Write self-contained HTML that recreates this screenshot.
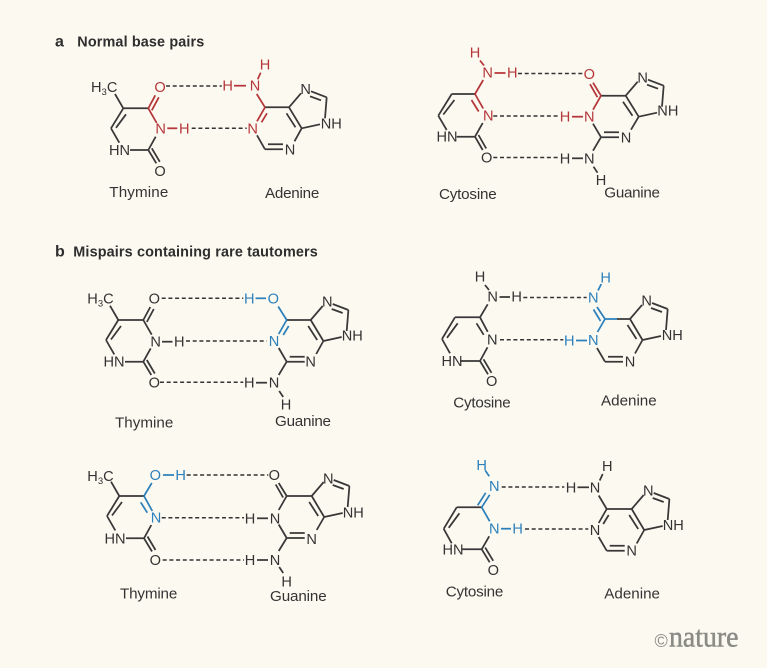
<!DOCTYPE html>
<html><head><meta charset="utf-8"><style>
html,body{margin:0;padding:0;background:#fcf9f0}
svg{display:block;filter:blur(.3px)}
text{font-family:"Liberation Sans",sans-serif;fill:#333}
.a{font-size:14.6px;text-anchor:middle}
.s{font-size:14.6px}
.l{font-size:15.2px}
.h{font-size:14.4px;font-weight:bold;fill:#2e2e2e}
.r{fill:#b5363a}.b{fill:#2c80bb}
path{fill:none;stroke:#383838;stroke-width:1.75}
.pr{stroke:#b5363a}.pb{stroke:#2c80bb}
.d{stroke:#333;stroke-width:1.5;stroke-dasharray:4 2.7}
</style></head><body>
<svg width="767" height="668" viewBox="0 0 767 668" xmlns="http://www.w3.org/2000/svg">
<rect width="767" height="668" fill="#fcf9f0"/>

<text class="h" x="55" y="46.5" style="font-size:16px">a</text>
<text class="h" x="77.3" y="46.5" textLength="127" lengthAdjust="spacing">Normal base pairs</text>
<text class="h" x="55" y="256.5" style="font-size:16px">b</text>
<text class="h" x="73.3" y="256.5" textLength="244.5" lengthAdjust="spacing">Mispairs containing rare tautomers</text>

<!-- a: Thymine -->
<g transform="translate(123.3 108.3)">
<path d="M0 0H25M0 0L-12.3 20M2.7 6L-7.3 19.5M-12.3 20L-4 34.4M6.7 41.7H25M25 41.7L32.4 28.4M25 41.7L33 55M28.5 40L36.5 53.5M0 0L-8.3 -14.3"/>
<path class="pr" d="M25 0L32 -13M28.5 2L35.5 -11M33.4 14.7L25 0"/>
</g>
<text class="s" x="91" y="92">H<tspan font-size="9.5" dy="3">3</tspan><tspan dy="-3">C</tspan></text>
<text class="a r" x="160" y="92">O</text>
<text class="a r" x="160.7" y="133.3">N</text>
<text class="a r" x="184.3" y="133.3">H</text>
<path class="pr" d="M167.3 128.3H177.3"/>
<text class="a" x="119.5" y="155">HN</text>
<text class="a" x="160" y="176">O</text>
<path class="d" d="M166 86H221.7M191.7 128.3H246.7"/>
<!-- a: Adenine -->
<g transform="translate(265 107.3)">
<path d="M0 0H24M24 0L36.7 21M21.5 6L30.5 20M36.7 21L29.5 34M18 42H0M18 37H3M0 42L-8 28M24 0L36 -14M46 -16L61.7 -10M45 -11L56 -7M61.7 -10L60 11M55 17L36.7 21"/>
<path class="pr" d="M-8 14L0 0M-3.5 15L2 6M0 0L-8.3 -13.3M-4.3 -34.6L-7.3 -28"/>
</g>
<text class="a r" x="255" y="90.7">N</text>
<text class="a r" x="265" y="69.3">H</text>
<text class="a r" x="227.7" y="90.7">H</text>
<path class="pr" d="M234 85.7H246"/>
<text class="a r" x="252.7" y="133.3">N</text>
<text class="a" x="290" y="154.3">N</text>
<text class="a" x="305.7" y="94">N</text>
<text class="s" x="320.7" y="128.3">NH</text>
<text class="l" x="109.3" y="197" textLength="59" lengthAdjust="spacing">Thymine</text>
<text class="l" x="265" y="198" textLength="54.3" lengthAdjust="spacing">Adenine</text>

<!-- a: Cytosine -->
<g transform="translate(451.7 94)">
<path d="M0 0H23.5M0 0L-13.4 21.7M2.7 6L-8.4 20.5M-13.4 21.7L-5 36M5 42.7H23.3M23.3 42.7L31 29M23.3 42.7L31 56M26.8 41L34.5 54.5"/>
<path class="pr" d="M23.3 0L31.5 14.5M19.8 6L27 17.5M23.3 0L31.5 -14"/>
</g>
<text class="a r" x="487.7" y="77.7">N</text>
<text class="a r" x="475" y="57.3">H</text>
<text class="a r" x="512.3" y="77.7">H</text>
<path class="pr" d="M494.5 73H505.5M480 60.5L484 65.5"/>
<text class="a r" x="488.3" y="120.7">N</text>
<text class="a" x="447" y="141.7">HN</text>
<text class="a" x="486.7" y="162.3">O</text>
<path class="d" d="M518 73.5H583M493.3 116H558.3M493.3 157.5H558.3"/>
<!-- a: Guanine -->
<g transform="translate(601 95.7)">
<path d="M0 0H24.7M24.7 0L37.7 21M22 6L31.5 20M37.7 21L30 34M18 41.5H0M18 36.5H3M-8 28L0 41.5M24.7 0L36.7 -14M47 -16L62.7 -10M46 -11L57 -7M62.7 -10L61 11M56 17L37.7 21M0 41.5L-8 55M-7.5 71L-3.5 77"/>
<path class="pr" d="M0 0L-8 -13M-3.6 1.5L-11 -11.5M0 0L-8 14"/>
</g>
<text class="a r" x="589.3" y="79">O</text>
<text class="a r" x="589.3" y="121.7">N</text>
<text class="a r" x="565" y="121.7">H</text>
<path class="pr" d="M572 116.7H583"/>
<text class="a" x="626" y="142.3">N</text>
<text class="a" x="642.7" y="82.3">N</text>
<text class="s" x="657.3" y="115.7">NH</text>
<text class="a" x="589.3" y="163.3">N</text>
<text class="a" x="565" y="163.3">H</text>
<path d="M572 158.3H583"/>
<text class="a" x="601" y="185">H</text>
<text class="l" x="439" y="199" textLength="57.7" lengthAdjust="spacing">Cytosine</text>
<text class="l" x="604.3" y="197.7" textLength="55.7" lengthAdjust="spacing">Guanine</text>

<!-- b1: Thymine -->
<g transform="translate(118.3 320)">
<path d="M0 0H25M0 0L-12.3 20M2.7 6L-7.3 19.5M-12.3 20L-4 34.4M6.7 41.7H25M25 41.7L32.4 28.4M25 41.7L33 55M28.5 40L36.5 53.5M0 0L-8.3 -14.3M25 0L32 -13M28.5 2L35.5 -11M33.4 14.7L25 0"/>
</g>
<text class="s" x="87.3" y="303.3">H<tspan font-size="9.5" dy="3">3</tspan><tspan dy="-3">C</tspan></text>
<text class="a" x="154.3" y="303.3">O</text>
<text class="a" x="155.7" y="346.7">N</text>
<text class="a" x="179.3" y="346.7">H</text>
<path d="M162 341.7H172.5"/>
<text class="a" x="114" y="366.7">HN</text>
<text class="a" x="154.3" y="387.7">O</text>
<path class="d" d="M161.7 298.3H243.3M186 341H266.7M160 382.3H243.3"/>
<!-- b1: Guanine -->
<g transform="translate(286.7 320)">
<path d="M0 0H24M24 0L36.7 21M21.5 6L30.5 20M36.7 21L29.5 34M18 41.7H0M18 36.7H3M-8 28L0 41.7M24 0L36 -14M46 -16L61.7 -10M45 -11L56 -7M61.7 -10L60 11M55 17L36.7 21M0 41.7L-8 55M-7.5 71L-3.5 77"/>
<path class="pb" d="M-8 14L0 0M-3.5 15L2 6M0 0L-8.5 -13.5"/>
</g>
<text class="a b" x="249.3" y="303.3">H</text>
<text class="a b" x="273.3" y="303.3">O</text>
<path class="pb" d="M255.5 298.3H266"/>
<text class="a b" x="274" y="346">N</text>
<text class="a" x="310.7" y="366.7">N</text>
<text class="a" x="327.3" y="306.7">N</text>
<text class="s" x="341.7" y="340.7">NH</text>
<text class="a" x="274" y="387.7">N</text>
<text class="a" x="249.3" y="387.7">H</text>
<path d="M256 382.7H267"/>
<text class="a" x="286" y="409.3">H</text>
<text class="l" x="115" y="427.3" textLength="58.3" lengthAdjust="spacing">Thymine</text>
<text class="l" x="275" y="426" textLength="56" lengthAdjust="spacing">Guanine</text>

<!-- b2: Cytosine -->
<g transform="translate(455 317.3)">
<path d="M0 0H25M0 0L-13 21.7M2.7 6L-8 20.5M-13 21.7L-5 36M5 43.7H25M25 43.7L32.5 30M25 43.7L33 57M28.5 42L36.5 55.5M25 0L32.7 14.5M21.5 6L28.7 17.5M25 0L32.7 -13"/>
</g>
<text class="a" x="492.7" y="301.7">N</text>
<text class="a" x="480" y="281.7">H</text>
<text class="a" x="516.7" y="301.7">H</text>
<path d="M499.5 297H510M485 285L489 290"/>
<text class="a" x="492.3" y="344.3">N</text>
<text class="a" x="452" y="366">HN</text>
<text class="a" x="491.7" y="386">O</text>
<path class="d" d="M523.3 297.5H586.7M500 339.8H563.3"/>
<!-- b2: Adenine -->
<g transform="translate(605 319)">
<path d="M25 0L37.5 21M22.5 6L31.5 20M37.5 21L30 34.5M18 42.7H0M18 37.7H3M-8 29L0 42.7M25 0L37 -14M47 -16L62.7 -10M46 -11L57 -7M62.7 -10L61 11M56 17L37.5 21M12 0H25"/>
<path class="pb" d="M0 0H12M0 0L-7.5 13M0 0L-8 -12M-4.5 2L-11.5 -9.5M-3.7 -35L-7 -28.5"/>
</g>
<text class="a b" x="593.3" y="302.7">N</text>
<text class="a b" x="605.7" y="282.3">H</text>
<text class="a b" x="593.3" y="345">N</text>
<text class="a b" x="569.3" y="345.5">H</text>
<path class="pb" d="M576 340.5H587"/>
<text class="a" x="630" y="366.7">N</text>
<text class="a" x="646.7" y="305.7">N</text>
<text class="s" x="661.7" y="340">NH</text>
<text class="l" x="453.3" y="407.3" textLength="57.4" lengthAdjust="spacing">Cytosine</text>
<text class="l" x="601" y="405.7" textLength="55.7" lengthAdjust="spacing">Adenine</text>

<!-- b3: Thymine -->
<g transform="translate(119.3 496)">
<path d="M0 0H24.7M0 0L-12.3 20M2.7 6L-7.3 19.5M-12.3 20L-4 34.4M6.7 42.3H24.7M24.7 42.3L32 29M24.7 42.3L32.7 55.5M28.2 40.5L36.2 54M0 0L-8.3 -14.3"/>
<path class="pb" d="M24.7 0L33 15M21.4 6.3L28 16.7M24.7 0L32.5 -13"/>
</g>
<text class="s" x="87.3" y="481">H<tspan font-size="9.5" dy="3">3</tspan><tspan dy="-3">C</tspan></text>
<text class="a b" x="155.3" y="480">O</text>
<text class="a b" x="180.7" y="480">H</text>
<path class="pb" d="M163 475H174"/>
<text class="a b" x="156" y="522.7">N</text>
<text class="a" x="115" y="543.3">HN</text>
<text class="a" x="155.3" y="565">O</text>
<path class="d" d="M186.7 475H268.3M161.7 517.7H244M162.7 560H244"/>
<!-- b3: Guanine -->
<g transform="translate(286.7 496)">
<path d="M0 0H25M25 0L37.5 21M22.5 6L31.5 20M37.5 21L30 34M18 42H0M18 37H3M-8 28.5L0 42M25 0L37 -14M47 -16L62.7 -10M46 -11L57 -7M62.7 -10L61 11M56 17L37.5 21M0 42L-8 55M-7.5 71L-3.5 77M0 0L-8 -13M-3.6 1.5L-11 -11.5M0 0L-8 14"/>
</g>
<text class="a" x="274.3" y="480">O</text>
<text class="a" x="275" y="523.3">N</text>
<text class="a" x="250" y="523.3">H</text>
<path d="M257 518.3H268"/>
<text class="a" x="311.7" y="544">N</text>
<text class="a" x="328.3" y="483.3">N</text>
<text class="s" x="342.7" y="517.3">NH</text>
<text class="a" x="275" y="565">N</text>
<text class="a" x="250" y="565">H</text>
<path d="M257 560H268"/>
<text class="a" x="286.7" y="586.7">H</text>
<text class="l" x="120" y="598.3" textLength="57.3" lengthAdjust="spacing">Thymine</text>
<text class="l" x="270" y="601" textLength="56.7" lengthAdjust="spacing">Guanine</text>

<!-- b4: Cytosine -->
<g transform="translate(456.7 507.3)">
<path d="M0 0H25M0 0L-13 21.5M2.7 6L-8 20.5M-13 21.5L-5 36M5 42H25M25 42L32.5 29M25 42L33 55M28.5 40.3L36.5 53.5"/>
<path class="pb" d="M25 0L33 14M25 0L33 -12.5M21 -2L29 -14.5M28.5 -37L32.5 -31"/>
</g>
<text class="a b" x="481.7" y="470">H</text>
<text class="a b" x="494.3" y="491">N</text>
<text class="a b" x="494.3" y="533.7">N</text>
<text class="a b" x="517.7" y="533.7">H</text>
<path class="pb" d="M501 528.7H511"/>
<text class="a" x="453" y="554.3">HN</text>
<text class="a" x="493.3" y="575">O</text>
<path class="d" d="M501.7 487H564.3M525 529H588.3"/>
<!-- b4: Adenine -->
<g transform="translate(606.7 509)">
<path d="M0 0H25M25 0L37.5 21M22.5 6L31.5 20M37.5 21L30 34.5M18 41.7H0M18 36.7H3M-8 28L0 41.7M25 0L37 -14M47 -16L62.7 -10M46 -11L57 -7M62.7 -10L61 11M56 17L37.5 21M-8 14L0 0M-3.5 15L2 6M0 0L-8 -13.5M-4 -35L-7 -28.5"/>
</g>
<text class="a" x="571" y="492.3">H</text>
<text class="a" x="595" y="492.3">N</text>
<path d="M577.5 487.3H589"/>
<text class="a" x="607.3" y="471">H</text>
<text class="a" x="595" y="535">N</text>
<text class="a" x="631.7" y="555.7">N</text>
<text class="a" x="648.3" y="495.7">N</text>
<text class="s" x="662.7" y="530">NH</text>
<text class="l" x="445.7" y="596.7" textLength="57.6" lengthAdjust="spacing">Cytosine</text>
<text class="l" x="604.3" y="598.3" textLength="55.7" lengthAdjust="spacing">Adenine</text>

<text x="654.5" y="647" style="font-family:'Liberation Sans',sans-serif;font-size:18px;fill:#8b8b86">©</text>
<text x="669" y="646.7" textLength="69.5" lengthAdjust="spacingAndGlyphs" style="font-family:'Liberation Serif',serif;font-size:30px;fill:#8b8b86;stroke:#8b8b86;stroke-width:.5">nature</text>
</svg>
</body></html>
